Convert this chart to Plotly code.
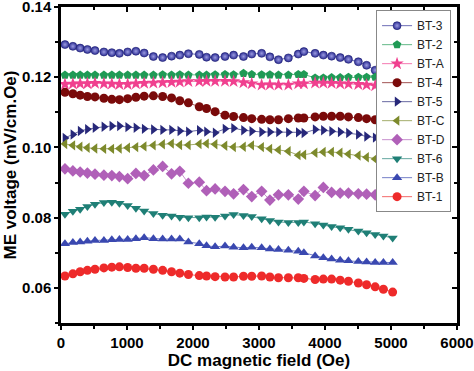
import plotly.graph_objects as go

field = [60, 180, 290, 400, 515, 650, 770, 885, 1010, 1135, 1260, 1400, 1540, 1675,
         1800, 1930, 2095, 2205, 2335, 2485, 2615, 2765, 2890, 3040, 3165, 3295, 3445,
         3595, 3680, 3850, 3975, 4100, 4230, 4355, 4505, 4630, 4760, 4885, 5025]

bt3 = [0.1293, 0.1288, 0.1283, 0.1279, 0.1276, 0.1272, 0.1270, 0.1268, 0.1272, 0.1274,
       0.1269, 0.1259, 0.1256, 0.1260, 0.1263, 0.1267, 0.1265, 0.1257, 0.1256, 0.1259,
       0.1263, 0.1259, 0.1266, 0.1268, 0.1258, 0.1250, 0.1255, 0.1266, 0.1273, 0.1268,
       0.1263, 0.1260, 0.1256, 0.1251, 0.1244, 0.1234, 0.1220]
bt2 = [0.1206, 0.1206, 0.1206, 0.1206, 0.1206, 0.1206, 0.1206, 0.1206, 0.1206, 0.1206,
       0.1206, 0.1206, 0.1207, 0.1206, 0.1207, 0.1206, 0.1206, 0.1206, 0.1207, 0.1208,
       0.1207, 0.1211, 0.1208, 0.1207, 0.1207, 0.1206, 0.1206, 0.1208, 0.1208, 0.1198,
       0.1198, 0.1199, 0.1199, 0.1200, 0.1200, 0.1200, 0.1200, 0.1201, 0.1201]
bta = [0.1180, 0.1181, 0.1182, 0.1182, 0.1183, 0.1182, 0.1181, 0.1180, 0.1180, 0.1182,
       0.1183, 0.1184, 0.1185, 0.1186, 0.1187, 0.1188, 0.1188, 0.1189, 0.1189, 0.1189,
       0.1188, 0.1185, 0.1182, 0.1178, 0.1179, 0.1178, 0.1178, 0.1182, 0.1182, 0.1184,
       0.1184, 0.1183, 0.1182, 0.1181, 0.1180, 0.1178, 0.1176, 0.1174, 0.1173]
bt4 = [0.1157, 0.1153, 0.1149, 0.1145, 0.1144, 0.1140, 0.1137, 0.1136, 0.1139, 0.1143,
       0.1146, 0.1147, 0.1145, 0.1141, 0.1133, 0.1127, 0.1116, 0.1111, 0.1102, 0.1092,
       0.1088, 0.1085, 0.1082, 0.1080, 0.1079, 0.1079, 0.1082, 0.1084, 0.1084, 0.1087,
       0.1089, 0.1089, 0.1089, 0.1087, 0.1085, 0.1082, 0.1079, 0.1075, 0.1073]
bt5 = [0.1027, 0.1037, 0.1047, 0.1052, 0.1056, 0.1059, 0.1061, 0.1061, 0.1058, 0.1056,
       0.1053, 0.1051, 0.1050, 0.1050, 0.1047, 0.1045, 0.1049, 0.1045, 0.1042, 0.1053,
       0.1055, 0.1049, 0.1046, 0.1044, 0.1044, 0.1044, 0.1043, 0.1043, 0.1041, 0.1051,
       0.1049, 0.1046, 0.1044, 0.1041, 0.1037, 0.1031, 0.1028, 0.1025, 0.1023]
btc = [0.1010, 0.1006, 0.1002, 0.0999, 0.0997, 0.0996, 0.0996, 0.0997, 0.0999, 0.1001,
       0.1003, 0.1006, 0.1009, 0.1011, 0.1007, 0.1007, 0.1010, 0.1011, 0.1009, 0.1005,
       0.1001, 0.1002, 0.1006, 0.1001, 0.0996, 0.0993, 0.0989, 0.0978, 0.0979, 0.0985,
       0.0987, 0.0987, 0.0985, 0.0981, 0.0977, 0.0972, 0.0967, 0.0963, 0.0960]
btd = [0.0939, 0.0933, 0.0930, 0.0927, 0.0924, 0.0921, 0.0920, 0.0917, 0.0911, 0.0926,
       0.0920, 0.0936, 0.0946, 0.0925, 0.0932, 0.0898, 0.0901, 0.0877, 0.0882, 0.0875,
       0.0868, 0.0880, 0.0860, 0.0875, 0.0850, 0.0865, 0.0865, 0.0853, 0.0875, 0.0863,
       0.0886, 0.0872, 0.0870, 0.0870, 0.0868, 0.0867, 0.0865, 0.0861, 0.0857]
bt6 = [0.0810, 0.0818, 0.0824, 0.0832, 0.0838, 0.0843, 0.0844, 0.0841, 0.0835, 0.0827,
       0.0819, 0.0812, 0.0807, 0.0805, 0.0801, 0.0800, 0.0800, 0.0802, 0.0801, 0.0805,
       0.0809, 0.0806, 0.0803, 0.0797, 0.0792, 0.0788, 0.0786, 0.0786, 0.0788, 0.0783,
       0.0779, 0.0775, 0.0771, 0.0767, 0.0762, 0.0757, 0.0752, 0.0748, 0.0742]
btb = [0.0726, 0.0729, 0.0731, 0.0733, 0.0735, 0.0735, 0.0737, 0.0738, 0.0738, 0.0740,
       0.0743, 0.0740, 0.0739, 0.0739, 0.0739, 0.0731, 0.0726, 0.0720, 0.0717, 0.0719,
       0.0716, 0.0714, 0.0716, 0.0714, 0.0711, 0.0709, 0.0707, 0.0704, 0.0700, 0.0691,
       0.0686, 0.0682, 0.0679, 0.0677, 0.0675, 0.0674, 0.0672, 0.0672, 0.0672]
bt1 = [0.0634, 0.0640, 0.0646, 0.0650, 0.0653, 0.0657, 0.0659, 0.0660, 0.0658, 0.0656,
       0.0656, 0.0653, 0.0650, 0.0646, 0.0642, 0.0638, 0.0635, 0.0634, 0.0632, 0.0631,
       0.0631, 0.0633, 0.0633, 0.0634, 0.0631, 0.0629, 0.0629, 0.0629, 0.0627, 0.0624,
       0.0625, 0.0625, 0.0622, 0.0619, 0.0614, 0.0609, 0.0603, 0.0596, 0.0588]

names = ["BT-3", "BT-2", "BT-A", "BT-4", "BT-5", "BT-C", "BT-D", "BT-6", "BT-B", "BT-1"]
series = [bt3, bt2, bta, bt4, bt5, btc, btd, bt6, btb, bt1]
colors = ["#2e2f96", "#1f9a55", "#f0408f", "#7a0a0a", "#27287a", "#7d8a2c",
          "#b060b8", "#1f7f76", "#3a48b0", "#ee2a2a"]
symbols = ["circle", "pentagon", "star", "circle", "triangle-right", "triangle-left",
           "diamond", "triangle-down", "triangle-up", "circle"]
sizes = [8, 9, 10, 9, 9, 9, 9, 9, 9, 9]

x_ticks = [0, 1000, 2000, 3000, 4000, 5000, 6000]
y_ticks = [0.06, 0.08, 0.10, 0.12, 0.14]

fig = go.Figure()
for i, (name, ys, col, sym, sz) in enumerate(zip(names, series, colors, symbols, sizes)):
    marker = dict(symbol=sym, size=sz, color=col, line=dict(width=0))
    if i == 0:
        marker["gradient"] = dict(type="radial", color="#9a9ae0")
        marker["line"] = dict(width=0.6, color="#1c1c70")
    fig.add_trace(go.Scatter(
        x=field[:len(ys)], y=ys, name=name, mode="lines+markers",
        line=dict(color=col, width=0.7),
        marker=marker,
    ))

# invisible trace for mirrored inner ticks on top/right
fig.add_trace(go.Scatter(x=[0], y=[0.05], xaxis="x2", yaxis="y2", mode="markers",
                         marker=dict(opacity=0), showlegend=False, hoverinfo="skip"))

font = "Liberation Sans, Arial, sans-serif"
fig.update_layout(
    width=474, height=371,
    margin=dict(l=61, r=17, t=7, b=48),
    paper_bgcolor="white", plot_bgcolor="white",
    font=dict(family=font, color="black"),
    showlegend=True,
    legend=dict(x=0.985, xanchor="right", y=0.99, yanchor="top",
                bgcolor="white", bordercolor="#888888", borderwidth=1,
                font=dict(size=12, family=font, color="#222222"),
                itemwidth=30, tracegroupgap=0),
    xaxis=dict(range=[0, 6000], tickvals=x_ticks, ticktext=[str(v) for v in x_ticks],
               automargin=False, ticklabeloverflow="allow",
               showgrid=False, zeroline=False,
               showline=True, linecolor="black", linewidth=2.5, mirror=True,
               ticks="outside", ticklen=4, tickwidth=2, tickcolor="black",
               minor=dict(dtick=500, tick0=0, ticks="outside", ticklen=3, tickwidth=2,
                          tickcolor="black", showgrid=False),
               tickfont=dict(size=15, family=font, weight="bold"),
               title=dict(text="DC magnetic field (Oe)", standoff=0,
                          font=dict(size=17, family=font, weight="bold"))),
    yaxis=dict(range=[0.05, 0.14], tickvals=y_ticks, ticktext=[f"{v:.2f}" for v in y_ticks],
               automargin=False, ticklabeloverflow="allow",
               showgrid=False, zeroline=False,
               showline=True, linecolor="black", linewidth=2.5, mirror=True,
               ticks="outside", ticklen=4, tickwidth=2, tickcolor="black",
               minor=dict(dtick=0.01, tick0=0.05, ticks="outside", ticklen=3, tickwidth=2,
                          tickcolor="black", showgrid=False),
               tickfont=dict(size=15, family=font, weight="bold"),
               title=dict(text="ME voltage (mV/cm.Oe)", standoff=2,
                          font=dict(size=17, family=font, weight="bold"))),
    xaxis2=dict(overlaying="x", side="top", range=[0, 6000], showticklabels=False,
                automargin=False,
                showgrid=False, zeroline=False, tickvals=x_ticks,
                ticks="inside", ticklen=5, tickwidth=2, tickcolor="black",
                minor=dict(dtick=500, tick0=0, ticks="inside", ticklen=3, tickwidth=2,
                           tickcolor="black")),
    yaxis2=dict(overlaying="y", side="right", range=[0.05, 0.14], showticklabels=False,
                automargin=False,
                showgrid=False, zeroline=False, tickvals=y_ticks,
                ticks="inside", ticklen=5, tickwidth=2, tickcolor="black",
                minor=dict(dtick=0.01, tick0=0.05, ticks="inside", ticklen=3, tickwidth=2,
                           tickcolor="black")),
)

fig.write_html("out.html", config={"displayModeBar": False},
               post_script="document.body.style.margin='0px';document.body.style.overflow='hidden';")
